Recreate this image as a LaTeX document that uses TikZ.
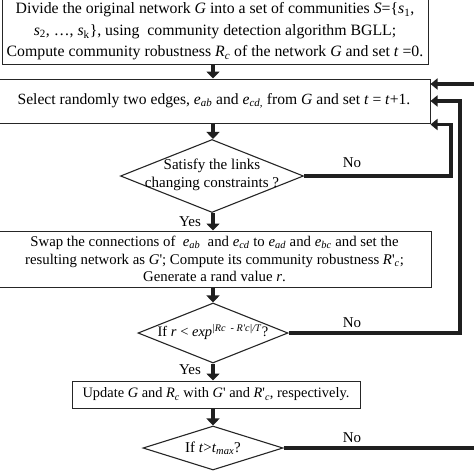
\documentclass[tikz,border=0pt]{standalone}
\usepackage{fontspec}
\setmainfont{Liberation Serif}
\usetikzlibrary{shapes.geometric,arrows.meta}
\newcommand{\pr}{\textquotesingle}
\begin{document}
\begin{tikzpicture}[x=1pt,y=-1pt,
  box/.style={draw=black!85, line width=1pt, fill=white, inner sep=0pt, align=center},
  dia/.style={diamond, draw=black!85, line width=1.1pt, inner sep=0pt},
  txt/.style={inner sep=0pt, align=center, font=\fontsize{15}{18}\selectfont},
  lbl/.style={inner sep=0pt, font=\fontsize{15}{18}\selectfont},
  flow/.style={line width=4.5pt, draw=black!88, -{Triangle[width=13pt,length=7pt]}},
  loop/.style={line width=3.5pt, draw=black!88, line join=miter, -{Triangle[width=11pt,length=7pt]}}]
\useasboundingbox (0,0) rectangle (474,474);
\fill[white] (0,0) rectangle (474,474);
% boxes
\node[box, minimum width=426pt, minimum height=65pt, font=\fontsize{15.8}{21.5}\selectfont] (b1) at (215,31.5)
 {Divide the original network \textit{G} into a set of communities \textit{S}=\{\textit{s}\textsubscript{1},\\
  \textit{s}\textsubscript{2}, \ldots, \textit{s}\textsubscript{k}\}, using\ \ community detection algorithm BGLL;\\
  Compute community robustness \textit{R}\textsubscript{\textit{c}} of the network \textit{G} and set \textit{t} =0.};
\node[box, minimum width=432pt, minimum height=44pt, font=\fontsize{15.6}{18}\selectfont] (b2) at (214,101)
 {Select randomly two edges, \textit{e}\textsubscript{\textit{ab}} and \textit{e}\textsubscript{\textit{cd,}} from \textit{G} and set \textit{t} = \textit{t}+1.};
\node[dia, minimum width=183pt, minimum height=73pt] (d1) at (212,176) {};
\node[txt] (t1) at (212,175) {Satisfy the links\\changing constraints ?};
\node[box, minimum width=433pt, minimum height=56pt, font=\fontsize{14.8}{17.5}\selectfont] (b3) at (214.5,259)
 {Swap the connections of\ \ \textit{e}\textsubscript{\textit{ab}}\ \ and \textit{e}\textsubscript{\textit{cd}} to \textit{e}\textsubscript{\textit{ad}} and \textit{e}\textsubscript{\textit{bc}} and set the\\
  resulting network as \textit{G}\pr; Compute its community robustness \textit{R}\pr\textsubscript{\textit{c}};\\
  Generate a rand value \textit{r}.};
\node[dia, minimum width=150pt, minimum height=60pt] (d2) at (213,333) {};
\node[txt, font=\fontsize{14.5}{17}\selectfont] (t2) at (213,332) {If \textit{r} < \textit{exp}\textsuperscript{\textit{|Rc\ \ -\ R\pr c|/T}}?};
\node[box, minimum width=288pt, minimum height=27pt, font=\fontsize{14.4}{17}\selectfont] (b4) at (216,394.5)
 {Update \textit{G} and \textit{R}\textsubscript{\textit{c}} with \textit{G}\pr{} and \textit{R}\pr\textsubscript{\textit{c}}, respectively.};
\node[dia, minimum width=140pt, minimum height=44pt] (d3) at (213,448) {};
\node[txt] (t3) at (213,448) {If \textit{t}>\textit{t}\textsubscript{\textit{max}}?};
% labels
\node[lbl] (n1) at (352,163) {No};
\node[lbl] (n2) at (352,323) {No};
\node[lbl] (n3) at (352,438) {No};
\node[lbl] (y1) at (190,222) {Yes};
\node[lbl] (y2) at (190,370) {Yes};
% vertical flow
\draw[flow] (b1.south -| d2.north) -- (b2.north -| d2.north);
\draw[flow] (b2.south -| d2.north) -- (d1.north -| d2.north);
\draw[flow] (d1.south -| d2.north) -- (b3.north -| d2.north);
\draw[flow] (b3.south -| d2.north) -- (d2.north);
\draw[flow] (d2.south) -- (b4.north -| d2.south);
\draw[flow] (b4.south -| d2.south) -- (d3.north);
% loops back
\coordinate (c1) at (451,176);
\coordinate (c2) at (460,333);
\coordinate (c3) at (490,448);
\draw[loop] (d1.east) -- (c1) |- ([yshift=-1pt]b2.south east);
\draw[loop] (d2.east) -- (c2) |- (b2.east);
\draw[loop] (d3.east) -- (c3) |- ([yshift=17pt]b2.east);
\end{tikzpicture}
\end{document}
